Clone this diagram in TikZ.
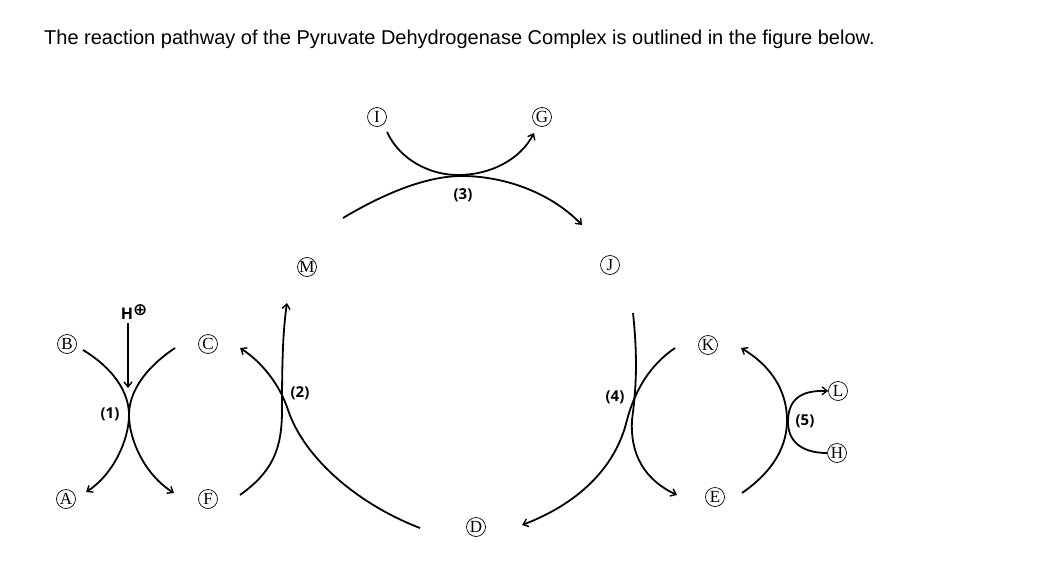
\documentclass[tikz,border=0pt]{standalone}
\usepackage{fontspec}
\setmainfont{Liberation Sans}
\newfontfamily\serifletters{Liberation Serif}
\newfontfamily\labelfont{Open Sans}
\newfontfamily\symfont{DejaVu Sans}
\usetikzlibrary{arrows.meta}
\begin{document}
\begin{tikzpicture}[x=1pt,y=-1pt,
  lett/.style={circle,draw,line width=0.7pt,minimum size=19pt,inner sep=0pt,font=\serifletters\fontsize{17}{17}\selectfont},
  steplabel/.style={font=\labelfont\bfseries\fontsize{15}{15}\selectfont,inner sep=0pt},
  curve/.style={line width=1.8pt},
  arr/.style={curve,-{Straight Barb[length=5pt,width=8pt,line width=1.4pt]}}
]
\useasboundingbox (0,0) rectangle (1064,567);
\node[anchor=base west,inner sep=0pt,font=\fontsize{20}{20}\selectfont] (title) at (44,45) {The reaction pathway of the Pyruvate Dehydrogenase Complex is outlined in the figure below.};

% letters
\node[lett] (B) at (67,344) {B};
\node[lett] (C) at (208,344) {C};
\node[lett] (A) at (66,499) {A};
\node[lett] (F) at (208,499) {F};
\node[lett] (M) at (307,267) {M};
\node[lett] (I) at (377,117) {I};
\node[lett] (G) at (542,117) {G};
\node[lett] (J) at (610,265) {J};
\node[lett] (D) at (476,527) {D};
\node[lett] (K) at (708,345) {K};
\node[lett] (E) at (715,497) {E};
\node[lett] (L) at (838,391) {L};
\node[lett] (H) at (837,453) {H};

% H+
\node[inner sep=0pt,anchor=base,font=\labelfont\bfseries\fontsize{16}{16}\selectfont] (Hp) at (134,319) {H\raisebox{4pt}{\symfont\fontsize{17}{17}\selectfont ⊕}};
\coordinate (hs) at (128,323);
\coordinate (he) at (128,388);
\draw[arr] (hs) -- (he);

% step labels
\node[steplabel] (s1) at (110,414) {(1)};
\node[steplabel] (s2) at (300,393) {(2)};
\node[steplabel] (s3) at (463,195) {(3)};
\node[steplabel] (s4) at (615,397) {(4)};
\node[steplabel] (s5) at (805,421) {(5)};

% reaction 1
\coordinate (t1) at (129,415);
\draw[arr] (83,350) .. controls (113,368) and (129,392) .. (t1) .. controls (129,440) and (113,475) .. (86,492);
\draw[arr] (175,348) .. controls (145,368) and (129,392) .. (t1) .. controls (129,440) and (145,475) .. (174,493);

% reaction 2
\draw[arr] (240,495) .. controls (272,472) and (282,450) .. (282,410) .. controls (282,360) and (283,330) .. (287,303);
\draw[arr] (420,528) .. controls (360,505) and (305,460) .. (288,410) .. controls (280,385) and (262,362) .. (240,348);

% reaction 3
\draw[arr] (343,218) .. controls (390,190) and (430,176) .. (462,176) .. controls (500,176) and (548,190) .. (582,225);
\draw[arr] (387,132) .. controls (400,160) and (430,175) .. (458,175) .. controls (490,175) and (520,160) .. (534,133);

% reaction 4
\draw[arr] (633,313) .. controls (638,360) and (636,390) .. (632,420) .. controls (630,455) and (645,480) .. (677,495);
\draw[arr] (675,348) .. controls (650,365) and (635,390) .. (627,420) .. controls (615,470) and (575,505) .. (522,525);

% reaction 5
\draw[arr] (742,493) .. controls (775,470) and (787,445) .. (787,420) .. controls (787,390) and (770,365) .. (741,348);
\draw[arr] (H.west) .. controls (800,453) and (788,440) .. (788,422) .. controls (788,400) and (800,390) .. (L.west);
\end{tikzpicture}
\end{document}
